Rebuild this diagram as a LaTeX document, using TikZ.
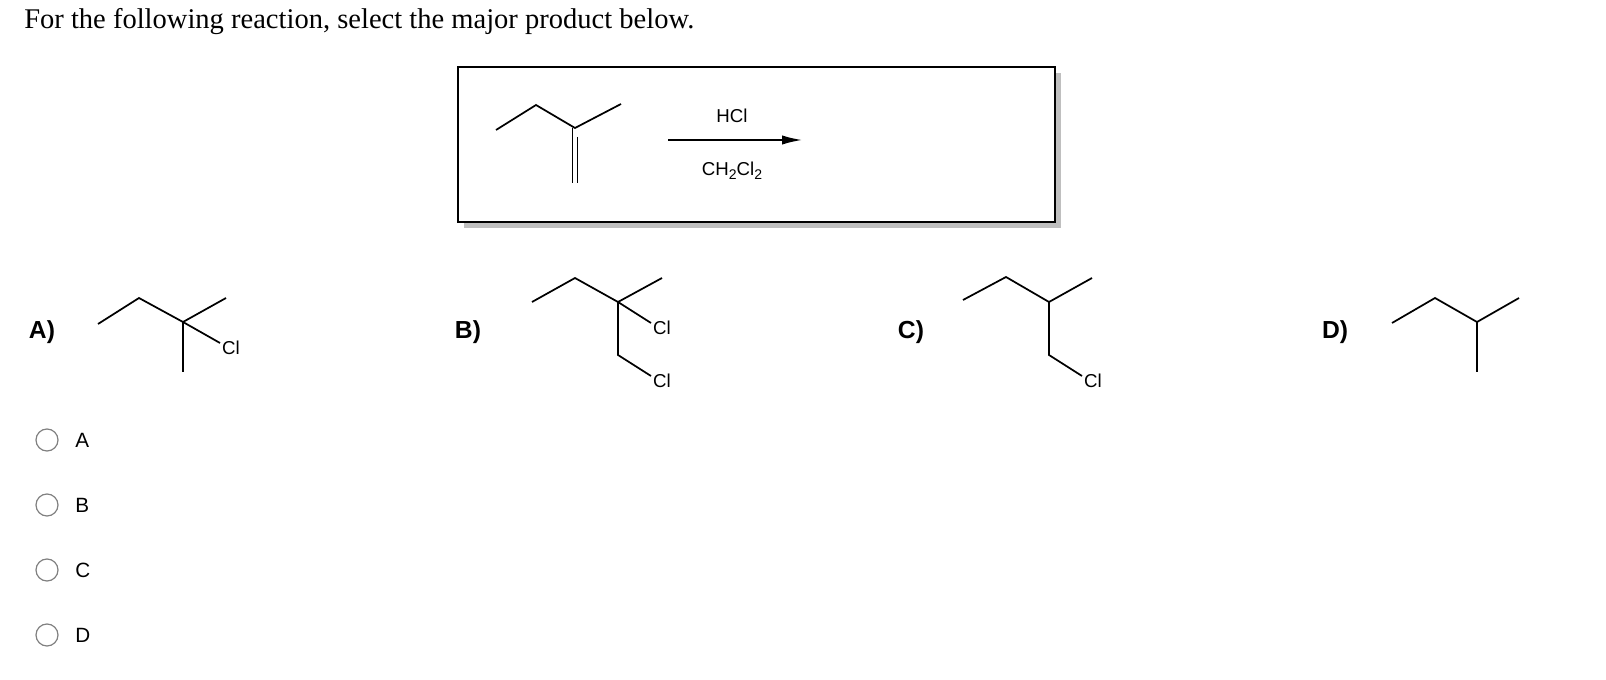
\documentclass[tikz,border=0pt]{standalone}
\usepackage{fontspec}
\usetikzlibrary{arrows.meta}
\setmainfont{Liberation Serif}
\setsansfont{Liberation Sans}
\newcommand{\subtwo}{\raisebox{-3pt}{\fontsize{10.5}{10.5}\selectfont 2}}
\begin{document}
\begin{tikzpicture}[x=0.75pt,y=-0.75pt,
 bond/.style={line width=1.3pt},
 cl/.style={font=\sffamily\fontsize{14}{14}\selectfont,inner sep=0pt},
 lab/.style={font=\sffamily\bfseries\fontsize{18.5}{18.5}\selectfont,inner sep=0pt},
 opt/.style={font=\sffamily\fontsize{15.5}{15.5}\selectfont,anchor=west,inner sep=0pt},
 radio/.style={circle,draw=gray,line width=0.9pt,minimum size=16.5pt,inner sep=0pt}]
\useasboundingbox (0,0) rectangle (1606,680);
\node[anchor=west,inner sep=0pt,font=\fontsize{21.4}{21.4}\selectfont] (title) at (24,22) {For the following reaction, select the major product below.};
% box
\fill[black!25] (464,73) rectangle (1061,228);
\draw[fill=white,line width=1.1pt] (458,67) rectangle (1055,222);
% reactant
\coordinate (r1) at (496,130); \coordinate (r2) at (536,105); \coordinate (r3) at (575,128); \coordinate (r4) at (621,104);
\draw[bond] (r1)--(r2)--(r3)--(r4);
\draw[bond] (572.5,128)--(572.5,183);
\draw[bond] (577.5,137)--(577.5,183);
\coordinate (a1) at (668,140); \coordinate (a2) at (802,140);
\draw[line width=1.2pt,-{Latex[length=15pt,width=7pt]}] (a1)--(a2);
\node[cl] (hcl) at (732,116) {HCl};
\node[cl] (ch) at (732,171) {CH\subtwo Cl\subtwo};
% A
\node[lab] (la) at (42,332) {A)};
\draw[bond] (98,324)--(139,298)--(183,322)--(226,298);
\draw[bond] (183,322)--(183,372);
\draw[bond] (183,322)--(220,343);
\node[cl] (cla) at (231,348) {Cl};
% B
\node[lab] (lb) at (468,332) {B)};
\draw[bond] (532,302)--(575,278)--(618,302)--(662,278);
\draw[bond] (618,302)--(651,323);
\node[cl] (clb1) at (662,328) {Cl};
\draw[bond] (618,302)--(618,355)--(651,376);
\node[cl] (clb2) at (662,381) {Cl};
% C
\node[lab] (lc) at (911,332) {C)};
\draw[bond] (963,300)--(1006,277)--(1049,302)--(1092,278);
\draw[bond] (1049,302)--(1049,355)--(1082,376);
\node[cl] (clc) at (1093,381) {Cl};
% D
\node[lab] (ld) at (1335,332) {D)};
\draw[bond] (1392,323)--(1435,298)--(1477,322)--(1519,298);
\draw[bond] (1477,322)--(1477,372);
% options
\foreach \y/\t in {440/A,505/B,570/C,635/D}{
 \node[radio] (c\t) at (47,\y) {};
 \node[opt] (o\t) at (75,\y) {\t};
}
\end{tikzpicture}
\end{document}
